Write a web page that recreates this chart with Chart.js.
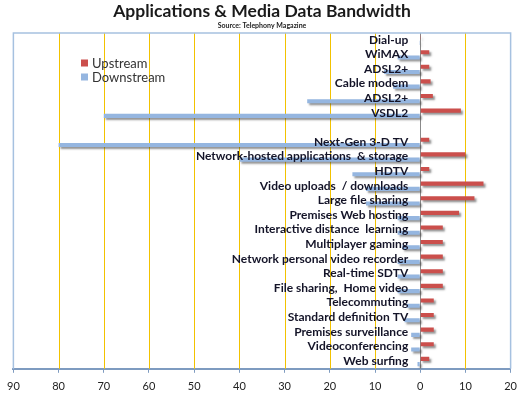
<!DOCTYPE html>
<html>
<head>
<meta charset="utf-8">
<script src="https://cdn.jsdelivr.net/npm/chart.js@4/dist/chart.umd.min.js"></script>
<style>
  html,body{margin:0;padding:0;background:#fff;}
  #wrap{width:524px;height:393px;position:relative;}
</style>
</head>
<body>
<div id="wrap"><canvas id="c"></canvas></div>
<script>
const categories = [
  "Dial-up", "WiMAX", "ADSL2+", "Cable modem", "ADSL2+", "VSDL2", "",
  "Next-Gen 3-D TV", "Network-hosted applications  & storage", "HDTV",
  "Video uploads  / downloads", "Large file sharing", "Premises Web hosting",
  "Interactive distance  learning", "Multiplayer gaming", "Network personal video recorder",
  "Real-time SDTV", "File sharing,  Home video", "Telecommuting", "Standard definition TV",
  "Premises surveillance", "Videoconferencing", "Web surfing"
];
const upstream = [0.05, 2, 2, 2.3, 2.8, 9, null, 2, 10, 2, 14, 12, 8.6, 5, 5, 5, 5, 5, 3, 3, 3, 3, 2];
const downstream = [0.05, 5, 8, 6, 25, 70, null, 80, 40, 15, 12, 12, 5, 5, 4, 5, 5, 5, 3, 3.5, 2, 2, 0.6];
const xTicks = [-90, -80, -70, -60, -50, -40, -30, -20, -10, 0, 10, 20];
const titleText = "Applications & Media Data Bandwidth";
const subtitleText = "Source: Telephony Magazine";
const seriesNames = ["Upstream", "Downstream"];

const RED = "#CB4F4C";
const BLUE = "#95B6E0";
const GOLD = "#F2C200";

const gridPlugin = {
  id: "gridlines",
  beforeDatasetsDraw(chart) {
    const ctx = chart.ctx;
    const xs = chart.scales.x;
    const a = chart.chartArea;
    ctx.save();
    ctx.lineWidth = 1;
    xTicks.forEach(v => {
      if (v === -90 || v === 20) return;
      const x = Math.round(xs.getPixelForValue(v)) + 0.5;
      ctx.strokeStyle = v === 0 ? "#8A8A8A" : GOLD;
      ctx.beginPath();
      ctx.moveTo(x, a.top);
      ctx.lineTo(x, a.bottom);
      ctx.stroke();
    });
    ctx.restore();
  }
};

const shadowPlugin = {
  id: "shadow",
  beforeDatasetsDraw(chart) {
    const ctx = chart.ctx;
    ctx.save();
    ctx.shadowColor = "rgba(60,60,60,0.55)";
    ctx.shadowOffsetX = 2;
    ctx.shadowOffsetY = 2;
    ctx.shadowBlur = 2;
  },
  afterDatasetsDraw(chart) {
    chart.ctx.restore();
  }
};

const overlayPlugin = {
  id: "overlay",
  afterDraw(chart) {
    const ctx = chart.ctx;
    const xs = chart.scales.x, ys = chart.scales.y;
    const a = chart.chartArea;
    ctx.save();
    ctx.strokeStyle = "#A6C1E0";
    ctx.lineWidth = 1.5;
    ctx.beginPath();
    ctx.moveTo(a.left, a.bottom);
    ctx.lineTo(a.left, a.top);
    ctx.lineTo(a.right, a.top);
    ctx.lineTo(a.right, a.bottom);
    ctx.stroke();
    ctx.font = "bold 12px Lato";
    ctx.fillStyle = "#141428";
    ctx.textAlign = "right";
    ctx.textBaseline = "middle";
    const x0 = xs.getPixelForValue(0) - 12;
    categories.forEach((c, i) => {
      if (c) ctx.fillText(c, x0, ys.getPixelForValue(i) - 0.5);
    });
    const colors = [RED, BLUE];
    ctx.font = "13px Lato";
    ctx.textAlign = "left";
    seriesNames.forEach((n, i) => {
      const y = 63 + i * 14;
      ctx.fillStyle = colors[i];
      ctx.fillRect(81, y - 3.5, 7, 7);
      ctx.fillStyle = "#333";
      ctx.fillText(n, 92, y + 0.5);
    });
    ctx.restore();
  }
};

new Chart(document.getElementById("c"), {
  type: "bar",
  data: {
    labels: categories,
    datasets: [
      { label: seriesNames[0], data: upstream, backgroundColor: RED,
        categoryPercentage: 0.72, barPercentage: 0.78 },
      { label: seriesNames[1], data: downstream.map(v => v === null ? null : -v), backgroundColor: BLUE,
        categoryPercentage: 0.72, barPercentage: 0.78 }
    ]
  },
  options: {
    indexAxis: "y",
    responsive: true,
    maintainAspectRatio: false,
    animation: false,
    layout: { padding: { left: 5, right: 5, top: 0, bottom: -7 } },
    plugins: {
      legend: { display: false },
      tooltip: { enabled: false },
      title: {
        display: true, text: titleText, color: "#1a1a1a",
        font: { family: "Lato", size: 17.5, weight: "bold", lineHeight: 1.0 },
        padding: { top: 3, bottom: 0 }
      },
      subtitle: {
        display: true, text: subtitleText, color: "#222",
        font: { family: "Lato", size: 7, weight: "bold", lineHeight: 1.2 },
        padding: { top: 1, bottom: 3 }
      }
    },
    scales: {
      x: {
        type: "linear", min: -90, max: 20,
        afterBuildTicks(scale) { scale.ticks = xTicks.map(v => ({ value: v })); },
        ticks: {
          callback: v => Math.abs(v),
          color: "#222",
          font: { family: "Lato", size: 11 },
          padding: 7, maxRotation: 0, autoSkip: false
        },
        grid: {
          drawOnChartArea: false,
          tickColor: "#7E9BC0",
          tickLength: 4,
          lineWidth: 1
        },
        border: { color: "#7E9BC0", width: 2 }
      },
      y: {
        type: "category",
        display: false,
        grid: { display: false }
      }
    }
  },
  plugins: [gridPlugin, shadowPlugin, overlayPlugin]
});
</script>
</body>
</html>
